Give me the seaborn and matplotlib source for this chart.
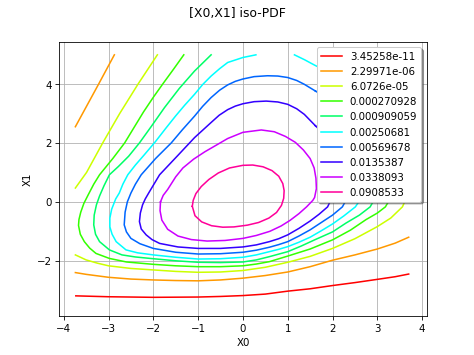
import matplotlib
matplotlib.use('Agg')
import matplotlib.pyplot as plt
import seaborn as sns

# iso-PDF levels (legend labels)
levels = ['3.45258e-11', '2.29971e-06', '6.0726e-05', '0.000270928', '0.000909059',
          '0.00250681', '0.00569678', '0.0135387', '0.0338093', '0.0908533']

# contour lines, one pair of lists per segment
red_x = [-3.73, -3.0, -2.0, -1.0, -0.5, 0.0, 0.5, 1.0, 1.5, 2.0, 2.5, 3.0, 3.4, 3.70]
red_y = [-3.19, -3.22, -3.24, -3.23, -3.21, -3.18, -3.13, -3.03, -2.95, -2.84, -2.74, -2.63, -2.54, -2.45]

orange_a_x = [-3.74, -3.22, -2.87]
orange_a_y = [2.55, 4.0, 4.99]
orange_b_x = [-3.74, -3.5, -3.0, -2.5, -2.0, -1.5, -1.0, -0.5, 0.0, 0.5, 1.0, 1.5, 2.0, 2.5, 3.0, 3.4, 3.70]
orange_b_y = [-2.40, -2.46, -2.56, -2.62, -2.65, -2.67, -2.68, -2.65, -2.59, -2.50, -2.38, -2.20,
              -1.98, -1.80, -1.60, -1.40, -1.20]

yellow_a_x = [-3.74, -3.49, -3.13, -2.75, -2.34, -1.91]
yellow_a_y = [0.47, 1.0, 2.0, 3.0, 4.0, 4.99]
yellow_b_x = [-3.74, -3.5, -3.25, -3.0, -2.5, -2.0, -1.5, -1.0, -0.5, 0.0, 0.5, 1.0, 1.5, 2.0,
              2.5, 3.0, 3.3, 3.56, 3.73]
yellow_b_y = [-1.80, -1.97, -2.08, -2.17, -2.26, -2.31, -2.36, -2.39, -2.38, -2.33, -2.22, -2.05,
              -1.85, -1.58, -1.25, -0.84, -0.55, -0.17, 0.4]

green_x = [-1.32, -1.55, -1.79, -2.0, -2.22, -2.44, -2.64, -2.90, -3.20, -3.33, -3.45, -3.55,
           -3.62, -3.66, -3.67, -3.63, -3.54, -3.42, -3.28, -2.98, -2.60, -2.0, -1.5, -1.0,
           -0.5, 0.0, 0.3, 0.59, 1.0, 1.5, 2.0, 2.4, 2.75, 3.0, 3.18, 3.4, 3.6]
green_y = [4.99, 4.5, 4.0, 3.55, 3.05, 2.50, 2.0, 1.48, 0.92, 0.60, 0.25, -0.05,
           -0.35, -0.60, -0.80, -1.10, -1.35, -1.57, -1.75, -1.92, -2.04, -2.12, -2.17, -2.20,
           -2.20, -2.17, -2.11, -2.03, -1.84, -1.60, -1.29, -0.96, -0.60, -0.38, -0.17, 0.4, 1.2]

spring_x = [-0.71, -1.08, -1.42, -1.75, -2.05, -2.31, -2.55, -2.78, -2.98, -3.10, -3.20, -3.27,
            -3.32, -3.33, -3.29, -3.20, -2.98, -2.70, -2.40, -2.0, -1.5, -1.0, -0.5, 0.0,
            0.3, 0.59, 1.0, 1.3, 1.6, 2.0, 2.3, 2.6, 2.84, 3.05, 3.2, 3.3]
spring_y = [4.99, 4.44, 3.85, 3.20, 2.55, 2.0, 1.55, 1.20, 0.92, 0.55, 0.20, -0.10,
            -0.45, -0.78, -1.10, -1.35, -1.63, -1.80, -1.87, -1.93, -2.00, -2.05, -2.06, -2.04,
            -1.97, -1.86, -1.69, -1.50, -1.29, -1.02, -0.72, -0.45, -0.17, 0.4, 1.0, 1.6]

cyan_x = [0.29, 0.0, -0.34, -0.52, -0.71, -0.90, -1.08, -1.30, -1.50, -1.72, -1.95, -2.20,
          -2.40, -2.57, -2.68, -2.76, -2.84, -2.93, -2.97, -2.97, -2.92, -2.83, -2.61, -2.35,
          -2.0, -1.5, -1.0, -0.5, 0.0, 0.3, 0.59, 0.8, 1.0, 1.25, 1.5, 1.75, 2.0, 2.25, 2.51,
          2.85, 3.0, 2.95, 2.7, 2.2, 1.85, 1.60, 1.38, 1.15]
cyan_y = [4.99, 4.90, 4.73, 4.52, 4.27, 3.98, 3.65, 3.28, 2.92, 2.50, 2.05, 1.60,
          1.25, 0.92, 0.60, 0.30, 0.10, -0.25, -0.55, -0.85, -1.10, -1.35, -1.63, -1.73,
          -1.80, -1.88, -1.94, -1.93, -1.88, -1.80, -1.69, -1.61, -1.52, -1.37, -1.20, -0.98,
          -0.75, -0.48, -0.17, 0.6, 1.5, 2.5, 3.4, 4.1, 4.45, 4.64, 4.82, 4.99]

blue_x = [1.62, 1.37, 1.2, 1.0, 0.78, 0.55, 0.25, 0.0, -0.17, -0.34, -0.52, -0.71, -0.90, -1.08,
          -1.35, -1.60, -1.95, -2.27, -2.40, -2.50, -2.58, -2.63, -2.65, -2.60, -2.50, -2.30,
          -2.0, -1.5, -1.0, -0.5, 0.0, 0.3, 0.59, 0.8, 1.0, 1.25, 1.5, 1.75, 2.0, 2.22,
          2.5, 2.6, 2.5, 2.1, 1.62]
blue_y = [3.76, 3.99, 4.12, 4.22, 4.27, 4.28, 4.25, 4.17, 4.09, 3.97, 3.79, 3.54, 3.24, 2.91,
          2.45, 2.0, 1.47, 0.92, 0.60, 0.30, 0.0, -0.35, -0.78, -1.02, -1.24, -1.42,
          -1.58, -1.71, -1.77, -1.76, -1.71, -1.64, -1.54, -1.45, -1.35, -1.16, -0.95, -0.70,
          -0.45, -0.17, 0.6, 1.5, 2.5, 3.3, 3.76]

navy_x = [1.62, 1.37, 1.2, 1.0, 0.78, 0.52, 0.25, 0.0, -0.17, -0.34, -0.53, -0.72, -1.08, -1.45,
          -1.86, -2.10, -2.18, -2.24, -2.29, -2.31, -2.27, -2.16, -2.03, -1.86, -1.45, -1.0,
          -0.5, 0.0, 0.3, 0.59, 0.8, 1.0, 1.25, 1.5, 1.70, 1.89, 2.1, 2.15, 1.95, 1.62]
navy_y = [2.58, 2.97, 3.16, 3.31, 3.39, 3.42, 3.40, 3.33, 3.25, 3.13, 2.94, 2.68, 2.18, 1.58,
          0.92, 0.31, 0.10, -0.10, -0.38, -0.67, -0.92, -1.12, -1.28, -1.41, -1.53, -1.58,
          -1.58, -1.53, -1.46, -1.35, -1.25, -1.12, -0.90, -0.65, -0.42, -0.17, 0.5, 1.3, 2.1, 2.58]

purple_x = [-1.84, -1.78, -1.68, -1.50, -1.34, -1.10, -0.85, -0.60, -0.34, 0.0, 0.41, 0.70,
            0.95, 1.17, 1.35, 1.50, 1.59, 1.63, 1.64, 1.60, 1.56, 1.42, 1.25, 1.05, 0.85,
            0.60, 0.30, 0.0, -0.40, -0.80, -1.15, -1.45, -1.68, -1.81, -1.85, -1.84]
purple_y = [0.0, 0.22, 0.42, 0.85, 1.15, 1.45, 1.70, 1.92, 2.15, 2.36, 2.44, 2.38,
            2.22, 2.02, 1.76, 1.47, 1.15, 0.80, 0.45, 0.15, 0.05, -0.17, -0.40, -0.63, -0.82,
            -1.00, -1.14, -1.24, -1.31, -1.33, -1.28, -1.16, -0.93, -0.62, -0.30, 0.0]

pink_x = [-1.13, -1.11, -1.05, -0.93, -0.76, -0.55, -0.30, 0.0, 0.22, 0.45, 0.65, 0.80,
          0.89, 0.92, 0.91, 0.86, 0.75, 0.58, 0.35, 0.10, -0.20, -0.45, -0.70, -0.92,
          -1.07, -1.13]
pink_y = [-0.15, 0.05, 0.28, 0.52, 0.76, 0.98, 1.15, 1.24, 1.25, 1.19, 1.06, 0.87,
          0.62, 0.38, 0.12, -0.12, -0.36, -0.55, -0.70, -0.79, -0.85, -0.86, -0.81, -0.68,
          -0.47, -0.15]

segments = [
    (0, red_x, red_y),
    (1, orange_a_x, orange_a_y), (1, orange_b_x, orange_b_y),
    (2, yellow_a_x, yellow_a_y), (2, yellow_b_x, yellow_b_y),
    (3, green_x, green_y),
    (4, spring_x, spring_y),
    (5, cyan_x, cyan_y),
    (6, blue_x, blue_y),
    (7, navy_x, navy_y),
    (8, purple_x, purple_y),
    (9, pink_x, pink_y),
]

colors = ['#ff0000', '#ff9900', '#ccff00', '#33ff00', '#00ff66',
          '#00ffff', '#0066ff', '#3300ff', '#cc00ff', '#ff0099']

fig, ax = plt.subplots(figsize=(6.4, 4.8), dpi=74.0625)

done = set()
for lvl, xs, ys in segments:
    lab = levels[lvl] if lvl not in done else None
    done.add(lvl)
    sns.lineplot(x=xs, y=ys, sort=False, estimator=None, color=colors[lvl],
                 linewidth=1.5, label=lab, ax=ax)

ax.set_xlim(-4.1, 4.1)
ax.set_ylim(-3.87, 5.42)
ax.set_xlabel('X0')
ax.set_ylabel('X1')
ax.grid(True)
ax.legend(loc='upper right', shadow=True)
fig.suptitle('[X0,X1] iso-PDF')

fig.savefig('out.png', dpi=74.0625)
